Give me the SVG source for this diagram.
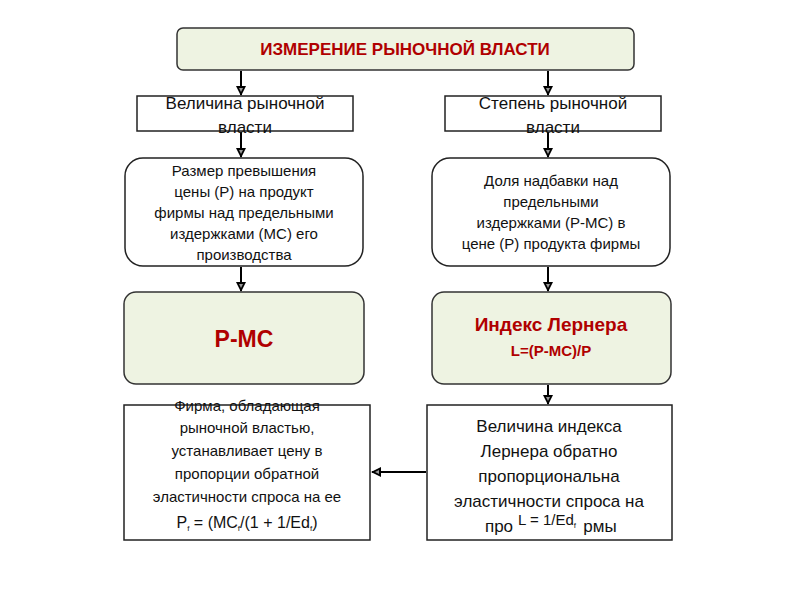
<svg xmlns="http://www.w3.org/2000/svg" width="800" height="600" viewBox="0 0 800 600">
<style>
text{font-family:"Liberation Sans",Arial,sans-serif;text-anchor:middle;fill:#111}
.b{fill:#fff;stroke:#222;stroke-width:1.5}
.g{fill:#eef3e2;stroke:#333;stroke-width:1.5}
.t{font-size:17px}
.s{font-size:15px}
.c line{stroke:#000;stroke-width:2}
.r{fill:#b00000;font-weight:bold}
</style>
<defs>
<marker id="a" markerWidth="10" markerHeight="10" refX="9" refY="5" orient="auto" markerUnits="userSpaceOnUse">
<path d="M0,0 L10,5 L0,10 Z" fill="#000"/><path d="M2,3 L6,5 L2,7 Z" fill="#999"/>
</marker>
</defs>
<rect width="800" height="600" fill="#fff"/>
<g class="c">
<line x1="241" y1="71" x2="241" y2="95" marker-end="url(#a)"/>
<line x1="548" y1="71" x2="548" y2="95" marker-end="url(#a)"/>
<line x1="241" y1="132" x2="241" y2="157" marker-end="url(#a)"/>
<line x1="548" y1="132" x2="548" y2="157" marker-end="url(#a)"/>
<line x1="241" y1="267" x2="241" y2="291" marker-end="url(#a)"/>
<line x1="548" y1="267" x2="548" y2="291" marker-end="url(#a)"/>
<line x1="548" y1="385" x2="548" y2="404" marker-end="url(#a)"/>
<line x1="426" y1="472" x2="372" y2="472" marker-end="url(#a)" stroke-width="2.5"/>
</g>
<g id="title"><rect class="g" x="177" y="28" width="457" height="42" rx="6"/>
<text x="405" y="55" class="r" font-size="17">ИЗМЕРЕНИЕ РЫНОЧНОЙ ВЛАСТИ</text></g>
<g id="n1"><rect class="b" x="137" y="96" width="216" height="35"/>
<text x="245" y="109" class="t">Величина рыночной</text><text x="245" y="133" class="t">власти</text></g>
<g id="n2"><rect class="b" x="445" y="96" width="216" height="35"/>
<text x="553" y="109" class="t">Степень рыночной</text><text x="553" y="133" class="t">власти</text></g>
<g id="n3"><rect class="b" x="125" y="158" width="238" height="108" rx="18"/>
<text class="s"><tspan x="244" y="176">Размер превышения</tspan><tspan x="244" y="197">цены (Р) на продукт</tspan><tspan x="244" y="218">фирмы над предельными</tspan><tspan x="244" y="239">издержками (МС) его</tspan><tspan x="244" y="260">производства</tspan></text></g>
<g id="n4"><rect class="b" x="432" y="158" width="238" height="108" rx="18"/>
<text class="s"><tspan x="551" y="186">Доля надбавки над</tspan><tspan x="551" y="207">предельными</tspan><tspan x="551" y="228">издержками (Р-МС) в</tspan><tspan x="551" y="249">цене (Р) продукта фирмы</tspan></text></g>
<g id="n5"><rect class="g" x="124" y="292" width="240" height="92" rx="12"/>
<text x="244" y="347" class="r" font-size="23">Р-МС</text></g>
<g id="n6"><rect class="g" x="432" y="292" width="239" height="92" rx="12"/>
<text x="551" y="331" class="r" font-size="19">Индекс Лернера</text>
<text x="551" y="356" class="r" font-size="15" font-family="Open Sans,sans-serif">L=(P-MC)/P</text></g>
<g id="n7"><rect class="b" x="124" y="405" width="246" height="135"/>
<text class="s"><tspan x="247" y="411">Фирма, обладающая</tspan><tspan x="247" y="433">рыночной властью,</tspan><tspan x="247" y="456">устанавливает цену в</tspan><tspan x="247" y="479">пропорции обратной</tspan><tspan x="247" y="502">эластичности спроса на ее</tspan></text>
<text x="247" y="528" font-size="16">P<tspan font-size="8" dy="3">f</tspan><tspan dy="-3"> = (MC</tspan><tspan font-size="8" dy="3">f</tspan><tspan dy="-3">/(1 + 1/Ed</tspan><tspan font-size="8" dy="3">f</tspan><tspan dy="-3">)</tspan></text></g>
<g id="n8"><rect class="b" x="427" y="405" width="245" height="135"/>
<text font-size="17"><tspan x="549" y="432">Величина индекса</tspan><tspan x="549" y="457">Лернера обратно</tspan><tspan x="549" y="482">пропорциональна</tspan><tspan x="549" y="507">эластичности спроса на</tspan></text>
<text x="499" y="532" font-size="17">про</text><text x="600" y="532" font-size="17">рмы</text>
<text x="547" y="525" font-size="15">L = 1/Ed<tspan font-size="8" dy="3">f</tspan></text></g>
</svg>
